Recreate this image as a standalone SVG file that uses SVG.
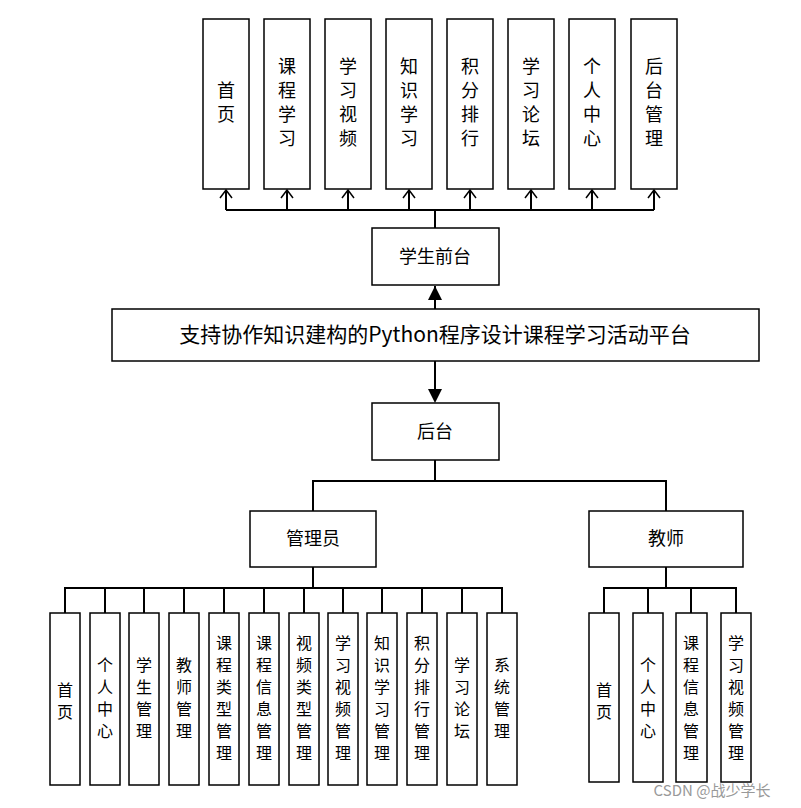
<svg xmlns="http://www.w3.org/2000/svg" width="801" height="808" viewBox="0 0 801 808">
<style>
rect{fill:#fff;stroke:#000;stroke-width:1.5}
text{font-family:"Noto Sans CJK SC","Liberation Serif",serif;fill:#000;text-anchor:middle}
.t{font-size:18px}.s{font-size:16px}.m{font-size:21px}
.c{fill:none;stroke:#000;stroke-width:2}
</style>
<defs>
<marker id="o" markerWidth="10" markerHeight="14" refX="9" refY="7" orient="auto" markerUnits="userSpaceOnUse" viewBox="0 0 10 14"><path d="M1,1 L9,7 L1,13" fill="none" stroke="#000" stroke-width="1.5"/></marker>
<marker id="f" markerWidth="14" markerHeight="14" refX="7" refY="0" markerUnits="userSpaceOnUse" viewBox="0 0 14 14"><path d="M0,14 L7,0 L14,14Z" fill="#000"/></marker>
</defs>
<rect x="0" y="0" width="801" height="808" style="fill:#fff;stroke:none"/>
<g id="connectors">
<path class="c" d="M435,228 V210 M226,210 H654"/>
<path class="c" d="M226,210 V190" marker-end="url(#o)"/>
<path class="c" d="M287,210 V190" marker-end="url(#o)"/>
<path class="c" d="M348,210 V190" marker-end="url(#o)"/>
<path class="c" d="M409,210 V190" marker-end="url(#o)"/>
<path class="c" d="M470,210 V190" marker-end="url(#o)"/>
<path class="c" d="M531,210 V190" marker-end="url(#o)"/>
<path class="c" d="M592,210 V190" marker-end="url(#o)"/>
<path class="c" d="M654,210 V190" marker-end="url(#o)"/>
<path class="c" d="M435,309 V286" marker-end="url(#f)"/>
<path d="M435,361 V390" class="c"/><path d="M428,389 L442,389 L435,403Z"/>
<path class="c" d="M435,460 V481 M313,511 V481 H666 V511"/>
<path class="c" d="M313,567 V588 M65,613 V588 H502 V613 M105,588 V613 M144,588 V613 M184,588 V613 M224,588 V613 M264,588 V613 M304,588 V613 M343,588 V613 M382,588 V613 M422,588 V613 M462,588 V613"/>
<path class="c" d="M666,567 V588 M604,613 V588 H736 V613 M648,588 V613 M691,588 V613"/>
</g>
<g id="top">
<rect x="203" y="19" width="46" height="170"/><text class="t" x="226" y="97">首</text><text class="t" x="226" y="121">页</text>
<rect x="264" y="19" width="46" height="170"/><text class="t" x="287" y="73">课</text><text class="t" x="287" y="97">程</text><text class="t" x="287" y="121">学</text><text class="t" x="287" y="145">习</text>
<rect x="325" y="19" width="46" height="170"/><text class="t" x="348" y="73">学</text><text class="t" x="348" y="97">习</text><text class="t" x="348" y="121">视</text><text class="t" x="348" y="145">频</text>
<rect x="386" y="19" width="46" height="170"/><text class="t" x="409" y="73">知</text><text class="t" x="409" y="97">识</text><text class="t" x="409" y="121">学</text><text class="t" x="409" y="145">习</text>
<rect x="447" y="19" width="46" height="170"/><text class="t" x="470" y="73">积</text><text class="t" x="470" y="97">分</text><text class="t" x="470" y="121">排</text><text class="t" x="470" y="145">行</text>
<rect x="508" y="19" width="46" height="170"/><text class="t" x="531" y="73">学</text><text class="t" x="531" y="97">习</text><text class="t" x="531" y="121">论</text><text class="t" x="531" y="145">坛</text>
<rect x="569" y="19" width="46" height="170"/><text class="t" x="592" y="73">个</text><text class="t" x="592" y="97">人</text><text class="t" x="592" y="121">中</text><text class="t" x="592" y="145">心</text>
<rect x="631" y="19" width="46" height="170"/><text class="t" x="654" y="73">后</text><text class="t" x="654" y="97">台</text><text class="t" x="654" y="121">管</text><text class="t" x="654" y="145">理</text>
</g>
<g id="front"><rect x="372" y="228" width="127" height="57"/><text class="t" x="435" y="263">学生前台</text></g>
<g id="main"><rect x="112" y="309" width="647" height="52"/><text class="m" x="435" y="342">支持协作知识建构的Python程序设计课程学习活动平台</text></g>
<g id="back"><rect x="372" y="403" width="127" height="57"/><text class="t" x="435" y="438">后台</text></g>
<g id="admin"><rect x="250" y="511" width="126" height="56"/><text class="t" x="313" y="545">管理员</text></g>
<g id="teacher"><rect x="589" y="511" width="154" height="56"/><text class="t" x="666" y="545">教师</text></g>
<g id="adminItems">
<rect x="50" y="613" width="30" height="172"/><text class="s" x="65" y="696">首</text><text class="s" x="65" y="718">页</text>
<rect x="90" y="613" width="30" height="172"/><text class="s" x="105" y="671">个</text><text class="s" x="105" y="693">人</text><text class="s" x="105" y="715">中</text><text class="s" x="105" y="737">心</text>
<rect x="129" y="613" width="30" height="172"/><text class="s" x="144" y="671">学</text><text class="s" x="144" y="693">生</text><text class="s" x="144" y="715">管</text><text class="s" x="144" y="737">理</text>
<rect x="169" y="613" width="30" height="172"/><text class="s" x="184" y="671">教</text><text class="s" x="184" y="693">师</text><text class="s" x="184" y="715">管</text><text class="s" x="184" y="737">理</text>
<rect x="209" y="613" width="30" height="172"/><text class="s" x="224" y="649">课</text><text class="s" x="224" y="671">程</text><text class="s" x="224" y="693">类</text><text class="s" x="224" y="715">型</text><text class="s" x="224" y="737">管</text><text class="s" x="224" y="759">理</text>
<rect x="249" y="613" width="30" height="172"/><text class="s" x="264" y="649">课</text><text class="s" x="264" y="671">程</text><text class="s" x="264" y="693">信</text><text class="s" x="264" y="715">息</text><text class="s" x="264" y="737">管</text><text class="s" x="264" y="759">理</text>
<rect x="289" y="613" width="30" height="172"/><text class="s" x="304" y="649">视</text><text class="s" x="304" y="671">频</text><text class="s" x="304" y="693">类</text><text class="s" x="304" y="715">型</text><text class="s" x="304" y="737">管</text><text class="s" x="304" y="759">理</text>
<rect x="328" y="613" width="30" height="172"/><text class="s" x="343" y="649">学</text><text class="s" x="343" y="671">习</text><text class="s" x="343" y="693">视</text><text class="s" x="343" y="715">频</text><text class="s" x="343" y="737">管</text><text class="s" x="343" y="759">理</text>
<rect x="367" y="613" width="30" height="172"/><text class="s" x="382" y="649">知</text><text class="s" x="382" y="671">识</text><text class="s" x="382" y="693">学</text><text class="s" x="382" y="715">习</text><text class="s" x="382" y="737">管</text><text class="s" x="382" y="759">理</text>
<rect x="407" y="613" width="30" height="172"/><text class="s" x="422" y="649">积</text><text class="s" x="422" y="671">分</text><text class="s" x="422" y="693">排</text><text class="s" x="422" y="715">行</text><text class="s" x="422" y="737">管</text><text class="s" x="422" y="759">理</text>
<rect x="447" y="613" width="30" height="172"/><text class="s" x="462" y="671">学</text><text class="s" x="462" y="693">习</text><text class="s" x="462" y="715">论</text><text class="s" x="462" y="737">坛</text>
<rect x="487" y="613" width="30" height="172"/><text class="s" x="502" y="671">系</text><text class="s" x="502" y="693">统</text><text class="s" x="502" y="715">管</text><text class="s" x="502" y="737">理</text>
</g>
<g id="teacherItems">
<rect x="589" y="613" width="30" height="169"/><text class="s" x="604" y="696">首</text><text class="s" x="604" y="718">页</text>
<rect x="633" y="613" width="30" height="169"/><text class="s" x="648" y="671">个</text><text class="s" x="648" y="693">人</text><text class="s" x="648" y="715">中</text><text class="s" x="648" y="737">心</text>
<rect x="676" y="613" width="31" height="169"/><text class="s" x="691" y="649">课</text><text class="s" x="691" y="671">程</text><text class="s" x="691" y="693">信</text><text class="s" x="691" y="715">息</text><text class="s" x="691" y="737">管</text><text class="s" x="691" y="759">理</text>
<rect x="721" y="613" width="30" height="169"/><text class="s" x="736" y="649">学</text><text class="s" x="736" y="671">习</text><text class="s" x="736" y="693">视</text><text class="s" x="736" y="715">频</text><text class="s" x="736" y="737">管</text><text class="s" x="736" y="759">理</text>
</g>
<text x="712" y="796" style="font-size:15px;fill:#999">CSDN @战少学长</text>
</svg>
